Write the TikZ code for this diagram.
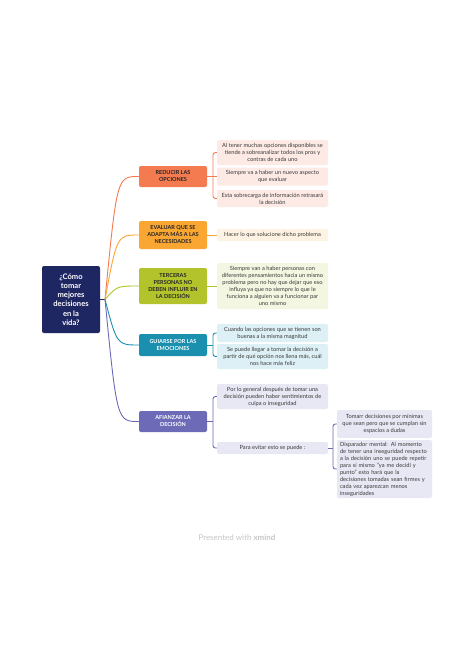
\documentclass[tikz,border=0pt]{standalone}
\usepackage{fontspec}
\setmainfont{Lato}
\definecolor{rootc}{HTML}{1F2763}
\definecolor{c1}{HTML}{F47A50}
\definecolor{c2}{HTML}{F9A633}
\definecolor{c3}{HTML}{B2C32B}
\definecolor{c4}{HTML}{1B8FAE}
\definecolor{c5}{HTML}{6D6BB7}
\definecolor{f1}{HTML}{FDEAE4}
\definecolor{f2}{HTML}{FEF3E3}
\definecolor{f3}{HTML}{F3F6E1}
\definecolor{f4}{HTML}{DDF0F6}
\definecolor{f5}{HTML}{E8E7F4}
\definecolor{txt}{HTML}{3A3A3A}
\definecolor{wm}{HTML}{C6C6C6}
\begin{document}
\begin{tikzpicture}[x=1pt,y=-1pt,
  rootbox/.style={fill=rootc,rounded corners=2pt,minimum width=58pt,minimum height=67pt,inner sep=0pt,
     text=white,font=\fontsize{7.6}{9.3}\selectfont\bfseries,align=center},
  topicbox/.style={fill=#1,rounded corners=2pt,minimum width=68pt,inner sep=0pt,
     font=\fontsize{5.5}{7}\selectfont\bfseries,align=center},
  subbox/.style={fill=#1,rounded corners=2pt,minimum width=111pt,inner sep=0pt,text=txt,
     font=\fontsize{5.7}{7}\selectfont,align=center},
  childbox/.style={fill=f5,rounded corners=2pt,minimum width=95pt,inner sep=0pt,text=txt,
     font=\fontsize{5.7}{7}\selectfont},
  conn/.style={draw=#1,line width=0.9pt},
  bracket/.style={draw=#1,line width=0.9pt,rounded corners=2.5pt}]
\useasboundingbox (0,0) rectangle (474,669);
\fill[white] (0,0) rectangle (474,669);

% root
\node[rootbox] (root) at (71,299.5) {¿Cómo\\tomar\\mejores\\decisiones\\en la\\vida?};

% topics
\node[topicbox=c1,minimum height=21pt,text=black!85] (t1) at (173,176.5) {REDUCIR LAS\\OPCIONES};
\node[topicbox=c2,minimum height=28pt,text=black!85] (t2) at (173,235) {EVALUAR QUE SE\\ADAPTA MÁS A LAS\\NECESIDADES};
\node[topicbox=c3,minimum height=36pt,text=black!85] (t3) at (173,286) {TERCERAS\\PERSONAS NO\\DEBEN INFLUIR EN\\LA DECISIÓN};
\node[topicbox=c4,minimum height=22pt,text=white] (t4) at (173,345) {GUIARSE POR LAS\\EMOCIONES};
\node[topicbox=c5,minimum height=21pt,text=white] (t5) at (173,421.5) {AFIANZAR LA\\DECISIÓN};

% subtopics
\node[subbox=f1,minimum height=25pt] (s1a) at (272.5,152.5) {Al tener muchas opciones disponibles se\\tiende a sobreanalizar todos los pros y\\contras de cada uno};
\node[subbox=f1,minimum height=18pt] (s1b) at (272.5,176.5) {Siempre va a haber un nuevo aspecto\\que evaluar};
\node[subbox=f1,minimum height=17pt] (s1c) at (272.5,198.5) {Esta sobrecarga de información retrasará\\la decisión};
\node[subbox=f2,minimum height=12pt] (s2a) at (272.5,235) {Hacer lo que solucione dicho problema};
\node[subbox=f3,minimum height=46pt] (s3a) at (272.5,286) {Siempre van a haber personas con\\diferentes pensamientos hacia un mismo\\problema pero no hay que dejar que eso\\influya ya que no siempre lo que le\\funciona a alguien va a funcionar par\\uno mismo};
\node[subbox=f4,minimum height=18pt] (s4a) at (272.5,333) {Cuando las opciones que se tienen son\\buenas a la misma magnitud};
\node[subbox=f4,minimum height=25pt] (s4b) at (272.5,356.5) {Se puede llegar a tomar la decisión a\\partir de qué opción nos llena más, cuál\\nos hace más feliz};
\node[subbox=f5,minimum height=25pt] (s5a) at (272.5,396.5) {Por lo general después de tomar una\\decisión pueden haber sentimientos de\\culpa o inseguridad};
\node[subbox=f5,minimum height=12pt] (s5b) at (272.5,448) {Para evitar esto se puede :};

% children of s5b
\node[childbox,minimum height=28pt,align=center] (k1) at (384.5,424) {Tomarr decisiones por mínimas\\que sean pero que se cumplan sin\\espacios a dudas};
\node[childbox,minimum height=58pt,align=left,text width=89pt] (k2) at (384.5,469) {Disparador mental: Al momento\\de tener una inseguridad respecto\\a la decisión uno se puede repetir\\para sí mismo "ya me decidí y\\punto" esto hará que la\\decisiones tomadas sean firmes y\\cada vez aparezcan menos\\inseguridades};

% root connectors
\coordinate (j) at (105,299.5);
\coordinate (jc) at (117,299.5);
\draw[conn=rootc] (root.east) -- (j);
\draw[conn=c1] (j) .. controls (jc |- t1.west) .. (t1.west);
\draw[conn=c2] (j) .. controls (jc |- t2.west) .. (t2.west);
\draw[conn=c3] (j) .. controls (jc |- t3.west) .. (t3.west);
\draw[conn=c4] (j) .. controls (jc |- t4.west) .. (t4.west);
\draw[conn=c5] (j) .. controls (jc |- t5.west) .. (t5.west);

% sub connectors
\coordinate (bx) at (213,0);
\coordinate (bx2) at (333,0);
\draw[conn=c1] (t1.east) -- (s1b.west);
\draw[bracket=c1] (s1a.west) -- (bx |- s1a.west) -- (bx |- s1c.west) -- (s1c.west);
\draw[conn=c2] (t2.east) -- (s2a.west);
\draw[conn=c3] (t3.east) -- (s3a.west);
\draw[conn=c4] (t4.east) -- (bx |- t4.east);
\draw[bracket=c4] (s4a.west) -- (bx |- s4a.west) -- (bx |- s4b.west) -- (s4b.west);
\draw[conn=c5] (t5.east) -- (bx |- t5.east);
\draw[bracket=c5] (s5a.west) -- (bx |- s5a.west) -- (bx |- s5b.west) -- (s5b.west);
\draw[conn=c5] (s5b.east) -- (bx2 |- s5b.east);
\draw[bracket=c5] (k1.west) -- (bx2 |- k1.west) -- (bx2 |- k2.west) -- (k2.west);

% watermark
\node[text=wm,font=\fontsize{8}{9}\selectfont] (wm) at (237,537.5) {Presented with \textbf{xmind}};
\end{tikzpicture}
\end{document}
